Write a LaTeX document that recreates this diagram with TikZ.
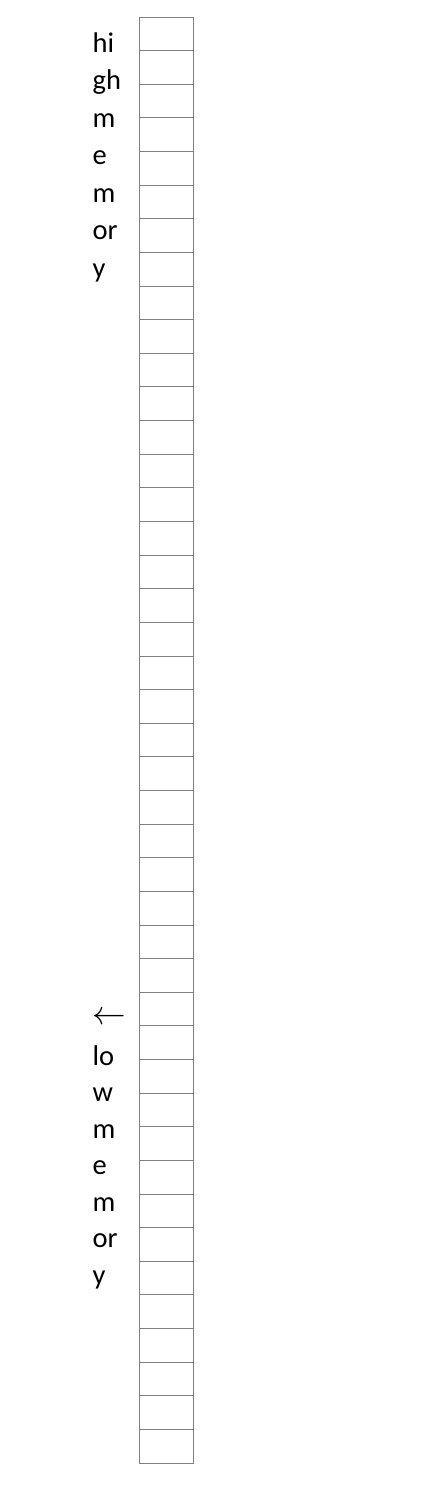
\documentclass[tikz,border=0pt]{standalone}
\usepackage{fontspec}
\setmainfont{Carlito}
\tikzset{
    mem-cell/.style = {draw=gray, line width=0.9pt, rectangle, minimum width=54pt, minimum height=33.63pt, inner sep=0pt, outer sep=0pt},
    side-text/.style = {anchor=base west, inner sep=0pt, font=\fontsize{28.5}{31}\selectfont},
}
\begin{document}
\begin{tikzpicture}[x=1pt, y=-1pt]
\useasboundingbox (0,0) rectangle (430,1500);
% column of memory cells
\foreach \i in {0,...,42}
    \node[mem-cell] (cell-\i) at (166.5, {33.8+33.63*\i}) {};
% high end
\foreach \t/\b [count=\k] in {hi/52, gh/89.5, m/127, e/164.5, m/202, or/239.5, y/277}
    \node[side-text] (high-\k) at (92.5,\b) {\t};
% low end
\node[side-text, anchor=west] (low-arrow) at (92,1018) {\scalebox{1.35}{$\leftarrow$}};
\foreach \t/\b [count=\k] in {lo/1065, w/1101.5, m/1138, e/1174.5, m/1211, or/1247.5, y/1284}
    \node[side-text] (low-\k) at (92.5,\b) {\t};
\end{tikzpicture}
\end{document}
